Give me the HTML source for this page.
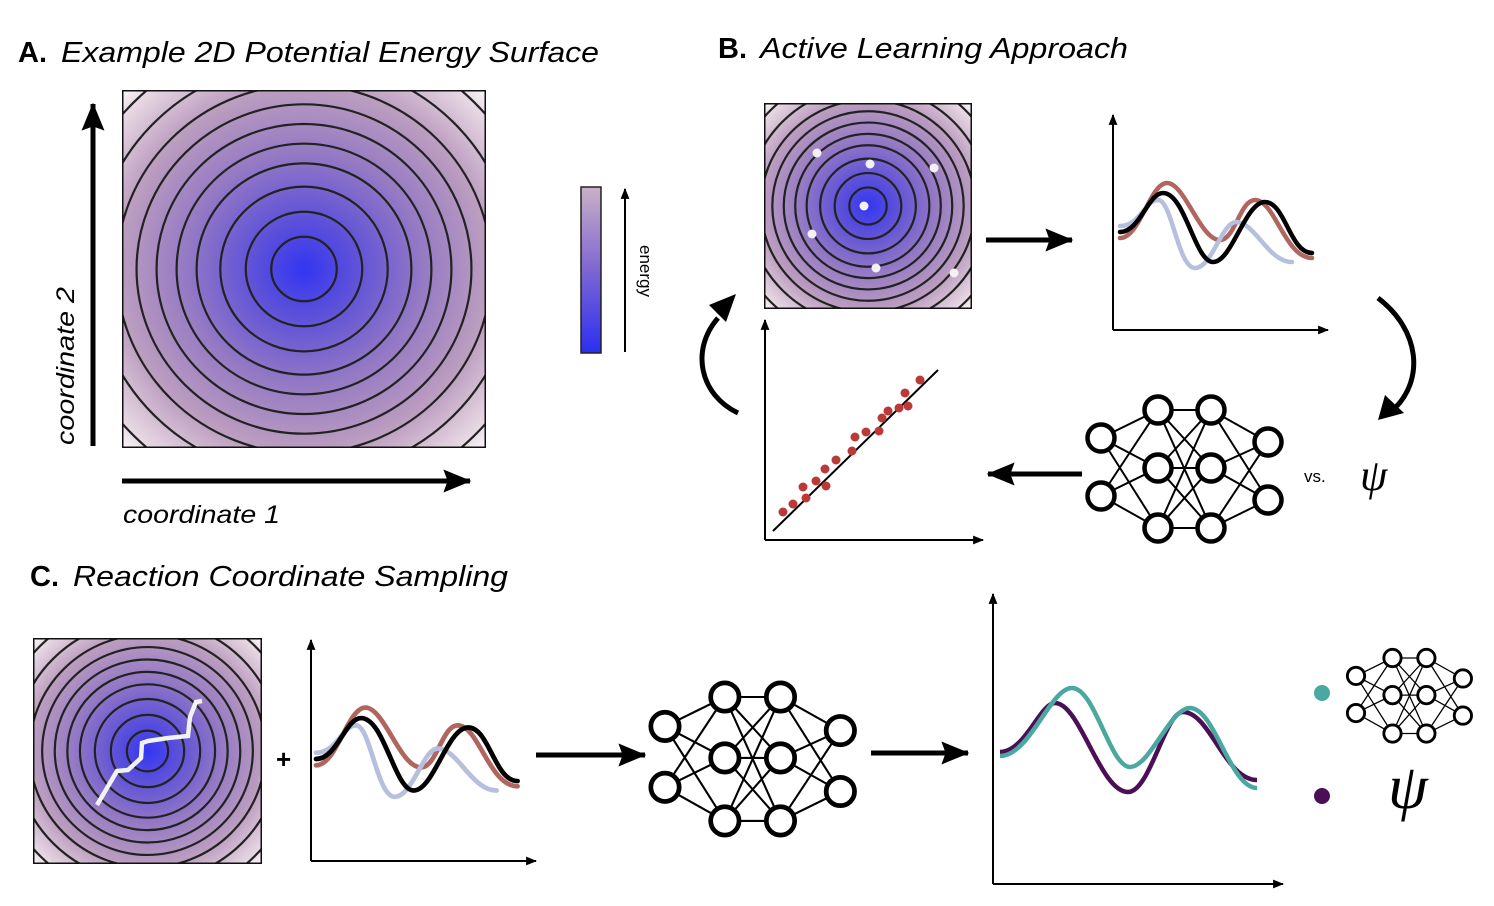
<!DOCTYPE html>
<html><head><meta charset="utf-8"><style>
html,body{margin:0;padding:0;background:#fff;}
svg{display:block;font-family:"Liberation Sans",sans-serif;}
</style></head><body>
<svg width="1494" height="906" viewBox="0 0 1494 906" xmlns="http://www.w3.org/2000/svg">
<defs>
<radialGradient id="pg" cx="0.5" cy="0.5" r="0.72" gradientUnits="objectBoundingBox">
<stop offset="0" stop-color="#3336f2"/>
<stop offset="0.2" stop-color="#5f52d8"/>
<stop offset="0.45" stop-color="#9479c4"/>
<stop offset="0.7" stop-color="#bb9dbf"/>
<stop offset="0.9" stop-color="#e6d6e2"/>
<stop offset="1" stop-color="#ffffff"/>
</radialGradient>
<linearGradient id="cb" x1="0" y1="0" x2="0" y2="1">
<stop offset="0" stop-color="#cbb0c6"/>
<stop offset="0.5" stop-color="#7e66d2"/>
<stop offset="1" stop-color="#2a2ff2"/>
</linearGradient>
<clipPath id="sq"><rect x="0" y="0" width="100" height="100"/></clipPath>
<symbol id="pes" viewBox="0 0 100 100" preserveAspectRatio="none">
<rect x="0" y="0" width="100" height="100" fill="url(#pg)"/>
<g clip-path="url(#sq)" fill="none" stroke="#222" stroke-width="2.2">
<circle cx="50" cy="50" r="9" vector-effect="non-scaling-stroke"/>
<circle cx="50" cy="50" r="16" vector-effect="non-scaling-stroke"/>
<circle cx="50" cy="50" r="23" vector-effect="non-scaling-stroke"/>
<circle cx="50" cy="50" r="29.5" vector-effect="non-scaling-stroke"/>
<circle cx="50" cy="50" r="35" vector-effect="non-scaling-stroke"/>
<circle cx="50" cy="50" r="40.5" vector-effect="non-scaling-stroke"/>
<circle cx="50" cy="50" r="46" vector-effect="non-scaling-stroke"/>
<circle cx="50" cy="50" r="51.5" vector-effect="non-scaling-stroke"/>
<circle cx="50" cy="50" r="58" vector-effect="non-scaling-stroke"/>
<circle cx="50" cy="50" r="66" vector-effect="non-scaling-stroke"/>
</g>
<rect x="0" y="0" width="100" height="100" fill="none" stroke="#111" stroke-width="3" vector-effect="non-scaling-stroke"/>
</symbol>
<marker id="ah" viewBox="0 0 10 10" refX="9" refY="5" markerWidth="11" markerHeight="11" markerUnits="userSpaceOnUse" orient="auto"><path d="M0,1 L10,5 L0,9 z" fill="#000"/></marker>
<marker id="ahb" viewBox="0 0 10 10" refX="9.5" refY="5" markerWidth="28" markerHeight="28" markerUnits="userSpaceOnUse" orient="auto"><path d="M0,0.9 L10,5 L0,9.1 L1.5,5 z" fill="#000"/></marker>
<g id="curves" fill="none" stroke-width="4.5" stroke-linecap="round">
<path d="M1120,238 C1140,238 1150,183 1167,183 C1185,183 1200,240 1220,240 C1235,240 1240,200 1255,200 C1275,200 1285,258 1312,258" stroke="#b0655f"/>
<path d="M1120,226 C1140,226 1145,200 1158,200 C1172,200 1178,268 1195,268 C1212,268 1222,222 1236,222 C1255,222 1268,262 1292,262" stroke="#b7bfde"/>
<path d="M1120,232 C1140,232 1148,193 1163,193 C1185,193 1195,262 1213,262 C1232,262 1245,202 1265,202 C1285,202 1290,253 1312,253" stroke="#000"/>
</g>
<g id="net" fill="none" stroke="#000">
<g stroke-width="2">
<path d="M0,28 L57,0 M0,28 L57,58 M0,28 L57,118 M0,86 L57,0 M0,86 L57,58 M0,86 L57,118
M57,0 L110,0 M57,0 L110,58 M57,0 L110,118 M57,58 L110,0 M57,58 L110,58 M57,58 L110,118 M57,118 L110,0 M57,118 L110,58 M57,118 L110,118
M110,0 L167,32 M110,0 L167,90 M110,58 L167,32 M110,58 L167,90 M110,118 L167,32 M110,118 L167,90"/>
</g>
<g stroke-width="4.5" fill="#fff">
<circle cx="0" cy="28" r="13.5"/><circle cx="0" cy="86" r="13.5"/>
<circle cx="57" cy="0" r="13.5"/><circle cx="57" cy="58" r="13.5"/><circle cx="57" cy="118" r="13.5"/>
<circle cx="110" cy="0" r="13.5"/><circle cx="110" cy="58" r="13.5"/><circle cx="110" cy="118" r="13.5"/>
<circle cx="167" cy="32" r="13.5"/><circle cx="167" cy="90" r="13.5"/>
</g>
</g>
</defs>

<!-- Panel A -->
<text x="18" y="62" font-size="29" font-weight="bold">A.</text>
<text x="61" y="62" font-size="29" font-style="italic" textLength="538" lengthAdjust="spacingAndGlyphs">Example 2D Potential Energy Surface</text>
<use href="#pes" x="122" y="90" width="364" height="358"/>
<line x1="93" y1="446" x2="93" y2="104" stroke="#000" stroke-width="5" marker-end="url(#ahb)"/>
<line x1="122" y1="481" x2="470" y2="481" stroke="#000" stroke-width="5" marker-end="url(#ahb)"/>
<text x="123" y="523" font-size="25" font-style="italic" textLength="157" lengthAdjust="spacingAndGlyphs">coordinate 1</text>
<text transform="translate(74,445) rotate(-90)" font-size="25" font-style="italic" textLength="158" lengthAdjust="spacingAndGlyphs">coordinate 2</text>
<rect x="581" y="187" width="20" height="166" fill="url(#cb)" stroke="#222" stroke-width="1.5"/>
<line x1="625" y1="352" x2="625" y2="189" stroke="#000" stroke-width="2" marker-end="url(#ah)"/>
<text transform="translate(640,245) rotate(90)" font-size="17">energy</text>

<!-- Panel B -->
<text x="718" y="58" font-size="29" font-weight="bold">B.</text>
<text x="760" y="58" font-size="29" font-style="italic" textLength="368" lengthAdjust="spacingAndGlyphs">Active Learning Approach</text>
<use href="#pes" x="764" y="103" width="208" height="206"/>
<g fill="#f4f0f4">
<circle cx="817" cy="153" r="4.5"/><circle cx="870" cy="164" r="4.5"/><circle cx="934" cy="168" r="4.5"/>
<circle cx="864" cy="206" r="4.5"/><circle cx="812" cy="234" r="4.5"/><circle cx="876" cy="268" r="4.5"/><circle cx="954" cy="273" r="4.5"/>
</g>
<line x1="986" y1="240" x2="1072" y2="240" stroke="#000" stroke-width="5" marker-end="url(#ahb)"/>
<line x1="1113" y1="330" x2="1113" y2="115" stroke="#000" stroke-width="2" marker-end="url(#ah)"/>
<line x1="1113" y1="330" x2="1328" y2="330" stroke="#000" stroke-width="2" marker-end="url(#ah)"/>
<use href="#curves"/>
<path d="M1378,298 C1420,330 1425,380 1393,410" fill="none" stroke="#000" stroke-width="5"/>
<path d="M1378,420 L1385,395 L1404,413 z" fill="#000"/>
<path d="M738,413 C700,395 690,350 718,318" fill="none" stroke="#000" stroke-width="5"/>
<path d="M736,294 L709,305 L726,322 z" fill="#000"/>
<use href="#net" transform="translate(1101,410)"/>
<text x="1304" y="482" font-size="17">vs.</text>
<text x="1360" y="490" font-size="44" font-style="italic" font-family="Liberation Serif, serif">ψ</text>
<line x1="1082" y1="474" x2="988" y2="474" stroke="#000" stroke-width="5" marker-end="url(#ahb)"/>
<line x1="765" y1="540" x2="765" y2="320" stroke="#000" stroke-width="2" marker-end="url(#ah)"/>
<line x1="765" y1="540" x2="983" y2="540" stroke="#000" stroke-width="2" marker-end="url(#ah)"/>
<line x1="773" y1="531" x2="938" y2="370" stroke="#000" stroke-width="2"/>
<g fill="#b93a36">
<circle cx="783" cy="512" r="4.5"/><circle cx="793" cy="504" r="4.5"/><circle cx="806" cy="498" r="4.5"/><circle cx="803" cy="487" r="4.5"/>
<circle cx="816" cy="481" r="4.5"/><circle cx="826" cy="486" r="4.5"/><circle cx="825" cy="469" r="4.5"/><circle cx="836" cy="460" r="4.5"/>
<circle cx="852" cy="451" r="4.5"/><circle cx="855" cy="437" r="4.5"/><circle cx="866" cy="432" r="4.5"/><circle cx="879" cy="431" r="4.5"/>
<circle cx="882" cy="418" r="4.5"/><circle cx="888" cy="411" r="4.5"/><circle cx="899" cy="408" r="4.5"/><circle cx="908" cy="406" r="4.5"/>
<circle cx="905" cy="393" r="4.5"/><circle cx="920" cy="380" r="4.5"/>
</g>

<!-- Panel C -->
<text x="30" y="586" font-size="29" font-weight="bold">C.</text>
<text x="73" y="586" font-size="29" font-style="italic" textLength="435" lengthAdjust="spacingAndGlyphs">Reaction Coordinate Sampling</text>
<use href="#pes" x="33" y="638" width="229" height="226"/>
<path d="M97,805 L117,771 L128,770 L141,758 L142,743 L148,741 L168,738 L188,736 L190,717 L196,702 L202,701" fill="none" stroke="#f2f2f2" stroke-width="4.5"/>
<text x="276" y="768" font-size="26" font-weight="bold">+</text>
<line x1="311" y1="861" x2="311" y2="640" stroke="#000" stroke-width="2" marker-end="url(#ah)"/>
<line x1="311" y1="861" x2="536" y2="861" stroke="#000" stroke-width="2" marker-end="url(#ah)"/>
<use href="#curves" transform="translate(-860,515.4) scale(1.05)"/>
<line x1="536" y1="755" x2="645" y2="755" stroke="#000" stroke-width="5" marker-end="url(#ahb)"/>
<use href="#net" transform="translate(665,697) scale(1.05)"/>
<line x1="871" y1="753" x2="968" y2="753" stroke="#000" stroke-width="5" marker-end="url(#ahb)"/>
<line x1="993" y1="884" x2="993" y2="594" stroke="#000" stroke-width="2" marker-end="url(#ah)"/>
<line x1="993" y1="884" x2="1283" y2="884" stroke="#000" stroke-width="2" marker-end="url(#ah)"/>
<path d="M1000,752 C1025,752 1040,703 1055,703 C1080,703 1100,792 1128,792 C1150,792 1165,712 1183,712 C1210,712 1225,780 1257,780" fill="none" stroke="#4a0f55" stroke-width="4.5"/>
<path d="M1000,756 C1030,756 1050,688 1072,688 C1095,688 1110,767 1130,767 C1150,767 1170,708 1190,708 C1215,708 1230,788 1257,788" fill="none" stroke="#4aa8a0" stroke-width="4.5"/>
<circle cx="1322" cy="693" r="8" fill="#4aa8a0"/>
<circle cx="1322" cy="796" r="8" fill="#4a0f55"/>
<use href="#net" transform="translate(1356,658) scale(0.64)" stroke-width="1.5"/>
<text x="1388" y="808" font-size="64" font-style="italic" font-family="Liberation Serif, serif">ψ</text>
</svg>
</body></html>
